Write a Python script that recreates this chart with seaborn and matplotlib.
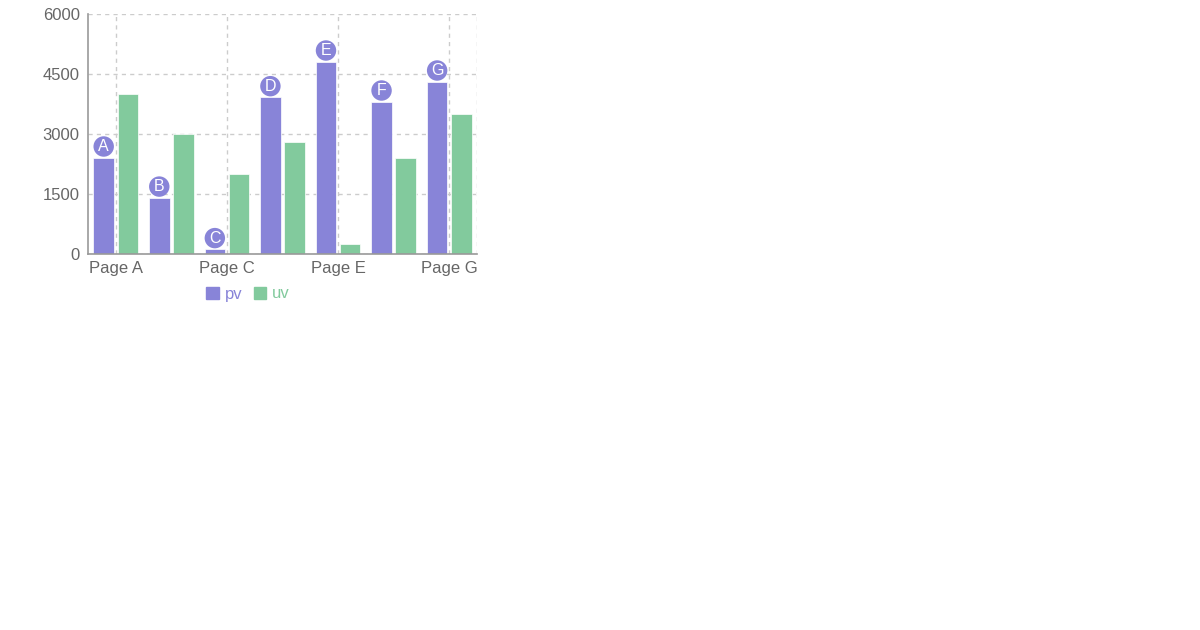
import matplotlib
matplotlib.use("Agg")
import matplotlib.pyplot as plt
import seaborn as sns
import pandas as pd
from matplotlib.patches import Patch

pages = ["Page A", "Page B", "Page C", "Page D", "Page E", "Page F", "Page G"]
pv = [2400, 1398, 110, 3908, 4800, 3800, 4300]
uv = [4000, 3000, 2000, 2780, 240, 2390, 3490]
letters = ["A", "B", "C", "D", "E", "F", "G"]
yticks = [0, 1500, 3000, 4500, 6000]
shown_xticks = ["Page A", "Page C", "Page E", "Page G"]

PV_COLOR = "#8884d8"
UV_COLOR = "#82ca9d"
TXT = "#666666"

sns.set_theme(style="white")
plt.rcParams["font.family"] = ["Liberation Sans", "DejaVu Sans"]

df = pd.DataFrame({
    "page": pages * 2,
    "value": pv + uv,
    "series": ["pv"] * len(pages) + ["uv"] * len(pages),
})

fig = plt.figure(figsize=(12, 6.3), dpi=100)
W, H = 1200, 630
left, right, top, bottom = 88, 477, 13.5, 253.5
ax = fig.add_axes([left / W, 1 - bottom / H, (right - left) / W, (bottom - top) / H])

sns.barplot(data=df, x="page", y="value", hue="series", order=pages,
            hue_order=["pv", "uv"], palette=[PV_COLOR, UV_COLOR],
            width=0.87, gap=0.15, ax=ax, legend=False, saturation=1,
            edgecolor="white", linewidth=0.5)

ax.set_xlim(-0.5, len(pages) - 0.5)
ax.set_ylim(0, 6000)
ax.set_yticks(yticks)
ax.set_yticklabels([str(t) for t in yticks])
ax.set_xticks([pages.index(p) for p in shown_xticks])
ax.set_xticklabels(shown_xticks)
ax.set_xlabel("")
ax.set_ylabel("")

# grid
for t in yticks:
    ax.axhline(t, color="#cccccc", lw=1, ls=(0, (3, 3)), zorder=0)
for p in shown_xticks:
    ax.axvline(pages.index(p), color="#cccccc", lw=1, ls=(0, (3, 3)), zorder=0)
ax.axvline(len(pages) - 0.5, color="#cccccc", lw=1, ls=(0, (3, 3)), zorder=0)

for s in ["top", "right"]:
    ax.spines[s].set_visible(False)
ax.spines["left"].set_color("#999999")
ax.spines["bottom"].set_color("#999999")
ax.spines["left"].set_linewidth(1.2)
ax.spines["bottom"].set_linewidth(1.2)
ax.tick_params(axis="y", length=2, width=1, color="#999999", labelcolor=TXT,
               labelsize=12, pad=4)
ax.tick_params(axis="x", length=4, width=1, color="#999999", labelcolor=TXT,
               labelsize=12, pad=1.5)

# circle labels above pv bars
pv_bars = ax.patches[:len(pages)]
for bar, lab in zip(pv_bars, letters):
    cx = bar.get_x() + bar.get_width() / 2
    cy = bar.get_height()
    ax.annotate(lab, (cx, cy), xytext=(0, 11), textcoords="offset pixels",
                ha="center", va="center", color="white", fontsize=11.5,
                bbox=dict(boxstyle="circle,pad=0.17", fc=PV_COLOR, ec="none"),
                zorder=5, annotation_clip=False)

# legend
handles = [Patch(color=PV_COLOR, label="pv"), Patch(color=UV_COLOR, label="uv")]
leg = fig.legend(handles=handles, loc="center", bbox_to_anchor=(248 / W, 1 - 294 / H),
                 ncol=2, frameon=False, fontsize=12, handlelength=0.75,
                 handleheight=0.75, handletextpad=0.35, columnspacing=0.7)
for txt, c in zip(leg.get_texts(), [PV_COLOR, UV_COLOR]):
    txt.set_color(c)

fig.savefig("out.png", dpi=100)
